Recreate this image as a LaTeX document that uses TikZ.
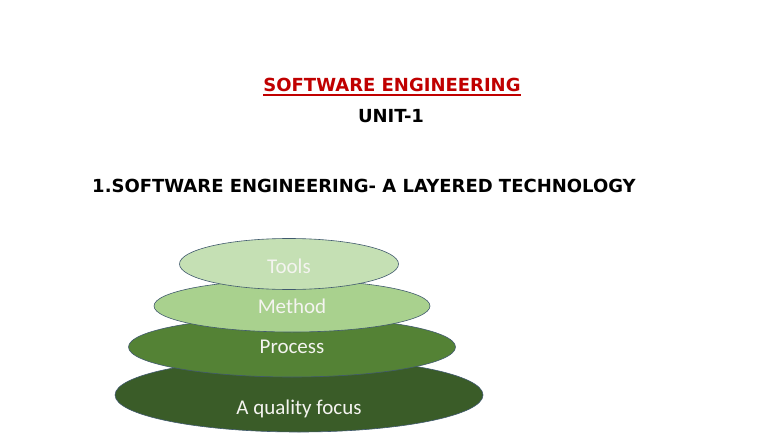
\documentclass[tikz,border=0pt]{standalone}
\usepackage{fontspec}
\setmainfont{DejaVu Sans}
\newfontfamily\layerfont{Carlito}
\usepackage{tikz}
\usetikzlibrary{shapes.geometric}
\definecolor{quality}{RGB}{58,92,40}
\definecolor{process}{RGB}{84,130,53}
\definecolor{method}{RGB}{169,209,142}
\definecolor{tools}{RGB}{197,224,180}
\definecolor{rim}{RGB}{65,90,110}
\definecolor{titlered}{RGB}{192,0,0}
\definecolor{labelwhite}{RGB}{244,244,240}
\newlength\swlen
\newlength\gaplen

\begin{document}
\begin{tikzpicture}[x=1pt,y=-1pt,
  layer/.style={ellipse,draw=rim,line width=0.6pt,inner sep=0pt},
  label/.style={text=labelwhite,font=\layerfont\fontsize{21}{21}\selectfont},
  heading/.style={font=\bfseries\fontsize{18}{18}\selectfont,inner sep=0pt}]
  \useasboundingbox[fill=white] (0,0) rectangle (784,441);
  \settowidth{\swlen}{\bfseries\fontsize{18}{18}\selectfont SOFTWARE}
  \settowidth{\gaplen}{\bfseries\fontsize{18}{18}\selectfont SOFTWARE\ }
  % headings
  \node[heading,text=titlered] (title) at (392,85) {SOFTWARE ENGINEERING};
  \node[heading] (unit) at (391,116) {UNIT-1};
  \node[heading] (topic) at (364,186) {1.SOFTWARE ENGINEERING- A LAYERED TECHNOLOGY};
  \draw[titlered,line width=1.3pt] ([yshift=-3pt]title.south west) -- ([yshift=-3pt]title.south east);
  \draw[black,line width=1.3pt] ([xshift=\swlen,yshift=-3pt]title.south west) -- ([xshift=\gaplen,yshift=-3pt]title.south west);

  % layers, back to front
  \node[layer,fill=quality,minimum width=368pt,minimum height=74pt] (focus) at (299,395) {};
  \node[layer,fill=process,minimum width=327pt,minimum height=60pt] (process) at (292,347) {};
  \node[layer,fill=method,minimum width=276pt,minimum height=52pt] (method) at (292,306) {};
  \node[layer,fill=tools,minimum width=219pt,minimum height=51pt] (tools) at (289,264) {};
  \node[label] (focustext) at (299,409) {A quality focus};
  \node[label] (processtext) at (292,347) {Process};
  \node[label] (methodtext) at (292,306) {Method};
  \node[label] (toolstext) at (289,266) {Tools};
\end{tikzpicture}
\end{document}
